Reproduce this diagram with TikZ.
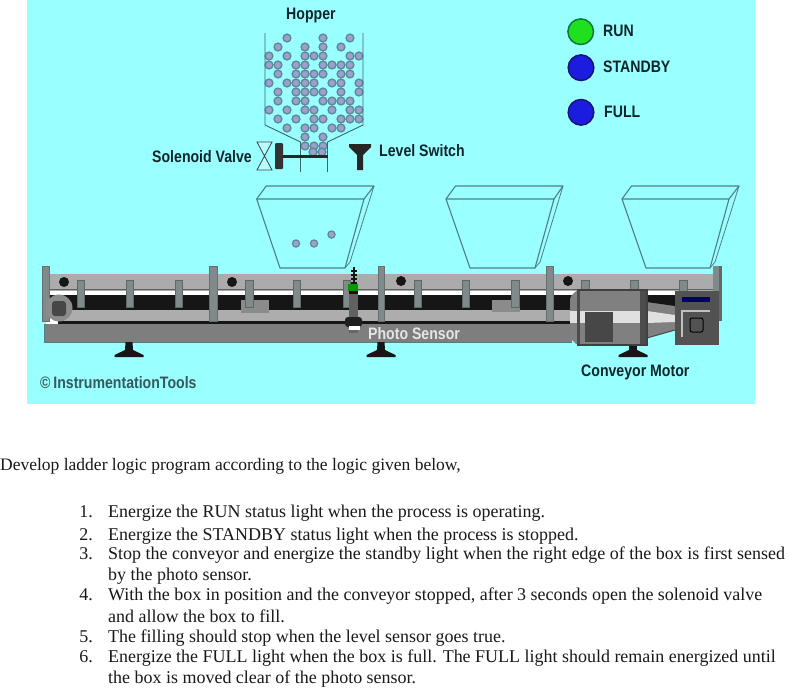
\documentclass[tikz,border=0pt]{standalone}
\usepackage{fontspec}
\setmainfont{Liberation Serif}
\newfontfamily\lblfont[FakeStretch=0.85]{Liberation Sans}
\definecolor{bgc}{HTML}{99FFFF}
\definecolor{ballc}{HTML}{9C9FD0}
\definecolor{ballo}{HTML}{5E8A96}
\definecolor{linec}{HTML}{4F7F86}
\definecolor{railc}{HTML}{ABABAB}
\definecolor{slatc}{HTML}{808A8A}
\definecolor{basec}{HTML}{7E7E7E}
\definecolor{darkc}{HTML}{161616}
\definecolor{txtc}{HTML}{10252B}
\definecolor{lampg}{HTML}{1FE01F}
\definecolor{lampgo}{HTML}{0A7A3A}
\definecolor{lampb}{HTML}{1C1CE0}
\definecolor{lampbo}{HTML}{151570}
\tikzset{
 x=1pt,y=-1pt,
 lbl/.style={font=\lblfont\bfseries\fontsize{16.6}{18}\selectfont,text=txtc,inner sep=0pt,anchor=base west},
 para/.style={font=\fontsize{17.97}{20}\selectfont,text=black!90,inner sep=0pt,anchor=base west},
 num/.style={font=\fontsize{17.97}{20}\selectfont,text=black!90,inner sep=0pt,anchor=base east},
 ball/.style={fill=ballc,draw=ballo,line width=1.4pt},
 hop/.style={draw=linec!80!black,line width=0.9pt},
 boxl/.style={draw=linec,line width=1.1pt,line join=round},
 slat/.style={fill=slatc,draw=slatc!75!black,line width=0.4pt},
 post/.style={fill=slatc,draw=slatc!80!black,line width=0.4pt},
}
\newcommand{\hopballs}[2]{\foreach \c in {#2}{\draw[ball] (269+9*\c,38+9*#1) circle[radius=3.9];}}
\newcommand{\foot}[1]{\fill[darkc] (#1-3.5,342) -- (#1+3.5,342) -- (#1+4,350) -- (#1+14.5,355) -- (#1+14.5,357) -- (#1-14.5,357) -- (#1-14.5,355) -- (#1-4,350) -- cycle;}
% #1 front-left x, #2 front-right x, #3 back-right x, #4 bottom-left x, #5 bottom-right x
\newcommand{\bin}[5]{\draw[boxl] (#1,199) -- (#2,199) -- (#5,268) -- (#4,268) -- cycle;
 \draw[boxl] (#1,199) -- (#1+9.5,186) -- (#3,186) -- (#2,199);
 \draw[boxl,line width=0.8pt] (#3,186) -- (#5+5,262) -- (#5,268);}
\begin{document}
\begin{tikzpicture}
\useasboundingbox (0,0) rectangle (790,691);
\fill[white] (0,0) rectangle (790,691);
\fill[bgc] (27,0) rectangle (755,404);
% hopper balls
\hopballs{0}{2,6,9}
\hopballs{1}{1,4,6,8}
\hopballs{2}{0,2,4,5,6,9,10}
\hopballs{3}{0,1,3,4,6,7,8,9}
\hopballs{4}{1,3,4,5,6,8,9}
\hopballs{5}{0,2,3,4,5,7,8,10}
\hopballs{6}{1,3,4,5,6,8,10}
\hopballs{7}{1,3,4,6,7,8,9}
\hopballs{8}{0,2,4,5,7,9,10}
\hopballs{9}{1,3,5,6,8,9,10}
\hopballs{10}{2,4,5,7,8}
\hopballs{11}{4,6}
\hopballs{12}{4,5,6}
\draw[ball] (313,152) circle[radius=3.9] (322,152) circle[radius=3.9];
\fill[bgc] (300,156.5) rectangle (328,175);
% hopper outline
\draw[hop] (265,33) -- (265,125) -- (300.5,142) -- (300.5,172);
\draw[hop] (363,33) -- (363,125) -- (327.5,142) -- (327.5,172);
% valve and level switch
\draw[fill=bgc!70!white,draw=black!75,line width=0.8pt] (257,142) -- (272,142) -- (257,170) -- (272,170) -- cycle;
\fill[black!80,rounded corners=1pt] (275,143) rectangle (283,169);
\fill[black!85] (283,155) rectangle (328,157.5);
\fill[black!85] (349,144) -- (371,144) -- (371,147) -- (363,155) -- (363,170) -- (357,170) -- (357,155) -- (349,147) -- cycle;
% bins
\bin{256.7}{364}{374}{280}{345}
\bin{446}{554}{563}{470}{535}
\bin{622}{729}{739}{646}{710}
\foreach \bx/\by in {296/243.5,314/243.5,331.5/234.5}{\draw[ball,line width=1.2pt] (\bx,\by) circle[radius=3.6];}
% conveyor
\fill[railc] (46,274) rectangle (717,291);
\draw[slatc!70!black,line width=0.5pt] (46,289.5) -- (717,289.5);
\fill[white] (46,291) rectangle (717,295);
\fill[darkc] (46,295) rectangle (680,310);
\fill[black!32] (46,310) rectangle (680,320.5);
\fill[darkc] (58,320.5) rectangle (572,324);
\fill[basec] (44,324) rectangle (572,342);
\draw[linec,line width=1pt] (44,324) -- (44,342.5) -- (572,342.5);
\fill[white] (46,318) rectangle (58,324);
% slats
\foreach \sx in {77,126,175,293,343,414,462}{\fill[slat] (\sx,280) rectangle (\sx+7.5,307);}
\foreach \sx in {581,630,679}{\fill[slat] (\sx,280) rectangle (\sx+8,291);}
% blocks
\fill[basec!90] (241,300) rectangle (269,313);
\fill[basec!90] (492,300) rectangle (520,312);
\fill[slat] (245,280) rectangle (253,307);
\fill[slat] (511,280) rectangle (519,307);
% posts
\foreach \px/\pw in {42/7,209/8,378/6,546/7}{\fill[post] (\px,266) rectangle (\px+\pw,321);}
% dots
\foreach \dx/\dy in {64/282,232/282,401/281,568/281}{\fill[darkc] (\dx,\dy) circle[radius=5];}
% roller
\fill[black!45] (59,308) circle[radius=13.5];
\fill[black!72,rounded corners=3pt] (52,301) rectangle (66,316);
% sensor
\fill[darkc] (352.5,267) rectangle (355,285);
\foreach \sy in {270,274,278,282}{\fill[darkc] (351,\sy) rectangle (356.5,\sy+1.5);}
\fill[green!60!black] (348,284) rectangle (358,291);
\fill[black!75!red] (349,291) rectangle (358,294);
\fill[black!62] (349,294) rectangle (358,317);
\fill[black!88,rounded corners=3pt] (345,317) rectangle (362,327);
\fill[white] (349,326) rectangle (360,329.5);
\fill[black!60] (349,329.5) rectangle (358,333);
% feet
\foot{129}\foot{381}\foot{633}
% motor taper
\fill[black!50] (647,295) -- (675,303) -- (675,330) -- (647,338) -- cycle;
\fill[darkc] (647,295) -- (675,300) -- (675,306) -- (647,302) -- cycle;
\fill[black!12] (647,311) -- (675,315) -- (675,322) -- (647,323) -- cycle;
\draw[black!72,line width=1pt] (647,338) -- (675,330);
% motor body
\fill[black!50,rounded corners=3pt] (570,297) -- (577,290) -- (647,290) -- (647,345) -- (577,345) -- (570,338) -- cycle;
\fill[black!12] (570,311) rectangle (647,323);
\fill[black!70] (577,290) rectangle (580,345);
\fill[black!70] (640,290) rectangle (646,345);
\draw[black!75,line width=1.2pt] (577,290) -- (647,290) -- (647,345) -- (577,345);
\fill[black!72] (585,312) rectangle (613,342);
% control box
\fill[black!60] (713,266) rectangle (722,321);
\fill[slatc] (713,266) rectangle (719,291);
\fill[black!68] (675,291) rectangle (719,345);
\fill[blue!40!black] (682,297) rectangle (710,302);
\draw[black!25,line width=1.2pt] (682,337) -- (682,311) -- (710,311);
\draw[black,line width=1pt,rounded corners=2pt] (690,318) rectangle (703,332);
% lamps
\draw[draw=lampgo,fill=lampg,line width=1.5pt] (580.7,31.7) circle[radius=12.8];
\draw[draw=lampbo,fill=lampb,line width=1.5pt] (581,67.7) circle[radius=12.8];
\draw[draw=lampbo,fill=lampb,line width=1.5pt] (581,112.3) circle[radius=12.8];
% labels
\node[lbl] (hopper) at (286,19) {Hopper};
\node[lbl] (run) at (603,36) {RUN};
\node[lbl] (standby) at (603,72) {STANDBY};
\node[lbl] (full) at (604,117) {FULL};
\node[lbl] (sv) at (152,162) {Solenoid Valve};
\node[lbl] (ls) at (379,156) {Level Switch};
\node[lbl,text=white!90!black] (ps) at (368,339) {Photo Sensor};
\node[lbl] (cm) at (581,376) {Conveyor Motor};
\node[lbl,text=linec!70!black] (it) at (40,388) {\char"00A9\,InstrumentationTools};
% text
\node[para,font=\fontsize{17.5}{20}\selectfont] (intro) at (0,470) {Develop ladder logic program according to the logic given below,};
\foreach \n/\yy in {1/517,2/540,3/559,4/600,5/642,6/662}{\node[num] (n\n) at (93,\yy) {\n.};}
\node[para] (t1) at (108,517) {Energize the RUN status light when the process is operating.};
\node[para] (t2) at (108,540) {Energize the STANDBY status light when the process is stopped.};
\node[para] (t3) at (108,559) {Stop the conveyor and energize the standby light when the right edge of the box is first sensed};
\node[para] (t3b) at (108,580) {by the photo sensor.};
\node[para] (t4) at (108,600) {With the box in position and the conveyor stopped, after 3 seconds open the solenoid valve};
\node[para] (t4b) at (108,622) {and allow the box to fill.};
\node[para] (t5) at (108,642) {The filling should stop when the level sensor goes true.};
\node[para] (t6) at (108,662) {Energize the FULL light when the box is full. The FULL light should remain energized until};
\node[para] (t6b) at (108,683) {the box is moved clear of the photo sensor.};
\end{tikzpicture}
\end{document}
